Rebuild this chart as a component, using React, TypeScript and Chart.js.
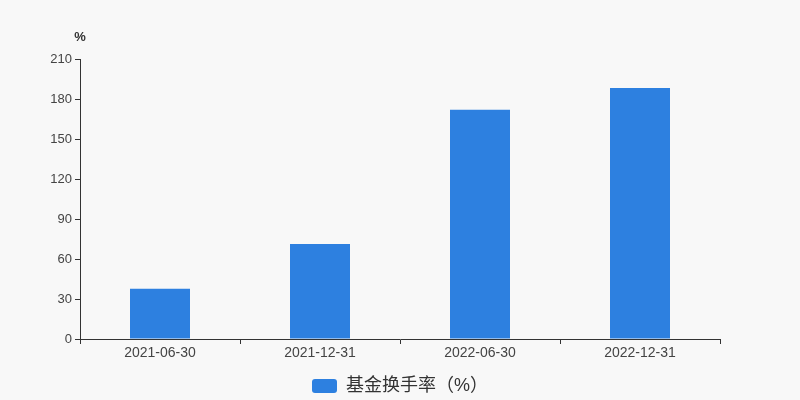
import { useEffect, useRef } from "react";
import Chart from "chart.js/auto";

const categories = ["2021-06-30", "2021-12-31", "2022-06-30", "2022-12-31"];
const turnoverRate = [37.6, 71.2, 171.9, 188.3];
const seriesName = "基金换手率（%）";
const unitLabel = "%";

const FONT = "'Liberation Sans', 'Noto Sans CJK SC', sans-serif";

const unitPlugin = {
	id: "unitLabel",
	afterDraw(chart: Chart) {
		const { ctx, chartArea } = chart;
		ctx.save();
		ctx.font = `bold 13px ${FONT}`;
		ctx.fillStyle = "#333";
		ctx.textAlign = "center";
		ctx.textBaseline = "middle";
		ctx.fillText(unitLabel, chartArea.left, chartArea.top - 22);
		ctx.restore();
	}
};

export default function App() {
	const canvasRef = useRef<HTMLCanvasElement>(null);

	useEffect(() => {
		if (!canvasRef.current) return;
		const chart = new Chart(canvasRef.current, {
			type: "bar",
			data: {
				labels: categories,
				datasets: [
					{
						label: seriesName,
						data: turnoverRate,
						backgroundColor: "#2d80e0",
						borderWidth: 0,
						barPercentage: 0.375,
						categoryPercentage: 1
					}
				]
			},
			options: {
				animation: false,
				responsive: false,
				maintainAspectRatio: false,
				layout: { padding: { left: 0, right: 0, top: 59, bottom: -5 } },
				plugins: {
					tooltip: { enabled: false },
					legend: {
						position: "bottom",
						labels: {
							font: { family: FONT, size: 18 },
							color: "#333",
							boxWidth: 25,
							boxHeight: 14,
							useBorderRadius: true,
							borderRadius: 3,
							padding: 10
						}
					}
				},
				scales: {
					x: {
						offset: true,
						afterFit(scale: any) {
							scale.height = 28;
						},
						grid: {
							offset: true,
							drawOnChartArea: false,
							drawTicks: true,
							tickLength: 5,
							color: "#333"
						},
						border: { color: "#333", width: 1 },
						ticks: {
							font: { family: FONT, size: 14 },
							color: "#444",
							padding: 1,
							maxRotation: 0
						}
					},
					y: {
						min: 0,
						max: 210,
						afterFit(scale: any) {
							scale.width = 80;
						},
						grid: {
							drawOnChartArea: false,
							drawTicks: true,
							tickLength: 5,
							color: "#333"
						},
						border: { color: "#333", width: 1 },
						ticks: {
							stepSize: 30,
							font: { family: FONT, size: 13 },
							color: "#444",
							padding: 3
						}
					},
					spacer: {
						position: "right",
						display: true,
						afterFit(scale: any) {
							scale.width = 80;
						},
						grid: { display: false },
						border: { display: false },
						ticks: { display: false }
					}
				}
			},
			plugins: [unitPlugin]
		});
		return () => {
			chart.destroy();
		};
	}, []);

	return (
		<div
			style={{
				position: "absolute",
				top: 0,
				left: 0,
				width: 800,
				height: 400,
				background: "#f8f8f8"
			}}
		>
			<canvas ref={canvasRef} width={800} height={400} style={{ width: 800, height: 400 }} />
		</div>
	);
}
